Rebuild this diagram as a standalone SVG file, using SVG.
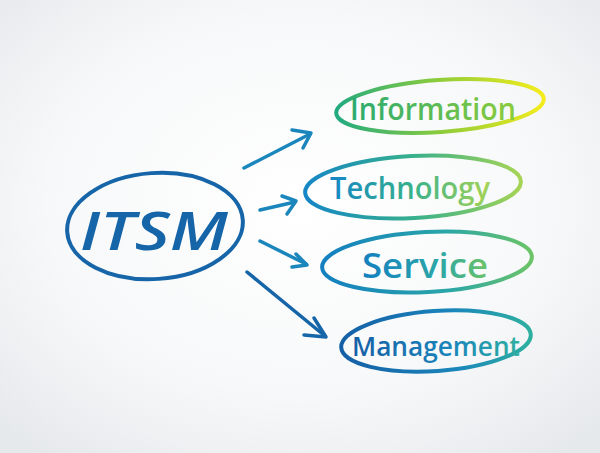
<svg xmlns="http://www.w3.org/2000/svg" width="600" height="453" viewBox="0 0 600 453">
<defs>
<radialGradient id="bg" cx="0.5" cy="0.45" r="0.7">
<stop offset="0" stop-color="#ffffff"/>
<stop offset="0.6" stop-color="#f7f8f9"/>
<stop offset="1" stop-color="#e6e9ec"/>
</radialGradient>
<linearGradient id="gInfo" x1="0" y1="0" x2="1" y2="0">
<stop offset="0" stop-color="#22aa80"/>
<stop offset="0.5" stop-color="#8dcc3a"/>
<stop offset="1" stop-color="#f4ec1c"/>
</linearGradient>
<linearGradient id="tInfo" x1="0" y1="0" x2="1" y2="0">
<stop offset="0" stop-color="#2aaa70"/>
<stop offset="1" stop-color="#8ccc3c"/>
</linearGradient>
<linearGradient id="gTech" x1="0" y1="0" x2="1" y2="0">
<stop offset="0" stop-color="#1586c6"/>
<stop offset="0.5" stop-color="#36b08c"/>
<stop offset="1" stop-color="#a6d455"/>
</linearGradient>
<linearGradient id="gServ" x1="0" y1="0" x2="1" y2="0">
<stop offset="0" stop-color="#137fc0"/>
<stop offset="0.6" stop-color="#2aa6a8"/>
<stop offset="1" stop-color="#6cc466"/>
</linearGradient>
<linearGradient id="gMan" x1="0" y1="0" x2="1" y2="0">
<stop offset="0" stop-color="#145fa6"/>
<stop offset="0.6" stop-color="#1a86bb"/>
<stop offset="1" stop-color="#2eb0a0"/>
</linearGradient>
<style>
.ring{fill:none;stroke-width:4;stroke-linecap:round}
.lbl{font-family:"Open Sans","Liberation Sans",sans-serif;font-weight:600}
.arr{fill:none;stroke-width:3.5;stroke-linecap:round;stroke-linejoin:round}
</style>
</defs>
<rect width="600" height="453" fill="url(#bg)"/>

<g id="itsm">
<ellipse class="ring" cx="155" cy="226" rx="88" ry="53" stroke="#1565a8" transform="rotate(-4 155 226)"/>
<text class="lbl" x="80" y="250" font-size="52" font-style="italic" fill="#1665a8" textLength="148" lengthAdjust="spacingAndGlyphs">ITSM</text>
</g>

<g id="information">
<ellipse class="ring" cx="440" cy="106" rx="104" ry="26" stroke="url(#gInfo)" transform="rotate(-4 440 106)"/>
<text class="lbl" x="350" y="120" font-size="30" fill="url(#tInfo)" textLength="166" lengthAdjust="spacingAndGlyphs">Information</text>
</g>

<g id="technology">
<ellipse class="ring" cx="413" cy="187" rx="108" ry="31" stroke="url(#gTech)" transform="rotate(-3 413 187)"/>
<text class="lbl" x="330" y="199" font-size="31" fill="url(#gTech)" textLength="160" lengthAdjust="spacingAndGlyphs">Technology</text>
</g>

<g id="service">
<ellipse class="ring" cx="427" cy="262" rx="105" ry="30" stroke="url(#gServ)" transform="rotate(-3 427 262)"/>
<text class="lbl" x="362" y="278" font-size="34" fill="url(#gServ)" textLength="126" lengthAdjust="spacingAndGlyphs">Service</text>
</g>

<g id="management">
<ellipse class="ring" cx="436" cy="341" rx="95" ry="30" stroke="url(#gMan)" transform="rotate(-4 436 341)"/>
<text class="lbl" x="352" y="356" font-size="27" fill="url(#gMan)" textLength="168" lengthAdjust="spacingAndGlyphs">Management</text>
</g>

<g id="connectors" stroke="#1a86bc">
<path class="arr" d="M244 168 L310 134"/>
<path class="arr" d="M292 130 L311 133 L303 148"/>
<path class="arr" d="M260 210 L295 202"/>
<path class="arr" d="M282 196 L296 201 L287 214"/>
<path class="arr" d="M260 241 L306 264"/>
<path class="arr" d="M296 254 L307 265 L292 267"/>
<path class="arr" d="M247 272 L325 336" stroke="#1565a8"/>
<path class="arr" d="M314 318 L326 337 L304 335" stroke="#1565a8"/>
</g>
</svg>
